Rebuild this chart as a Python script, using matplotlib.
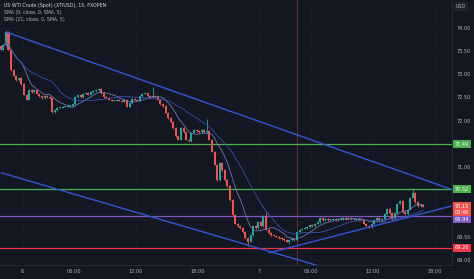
import matplotlib
import matplotlib.pyplot as plt
import numpy as np
import pandas as pd

matplotlib.use("Agg")

# 15 minute closes
closes = [
    73.53, 73.63, 73.91, 73.53, 73.09, 72.97, 72.88, 72.92, 72.79, 72.56,
    72.45, 72.66, 72.62, 72.66, 72.58, 72.53, 72.49, 72.53, 72.51, 72.49,
    72.19, 72.23, 72.28, 72.28, 72.30, 72.30, 72.32, 72.32, 72.36, 72.51,
    72.56, 72.51, 72.58, 72.60, 72.56, 72.62, 72.64, 72.66, 72.69, 72.60,
    72.51, 72.49, 72.45, 72.43, 72.43, 72.45, 72.43, 72.41, 72.45, 72.30,
    72.38, 72.47, 72.45, 72.43, 72.53, 72.58, 72.60, 72.53, 72.51, 72.53,
    72.51, 72.45, 72.36, 72.32, 72.17, 72.06, 71.97, 71.84, 71.67, 71.59,
    71.84, 71.76, 71.59, 71.56, 71.74, 71.80, 71.78, 71.76, 71.80, 71.76,
    71.78, 71.59, 71.33, 71.05, 70.72, 71.09, 70.94, 70.72, 70.59, 70.29,
    69.97, 69.78, 69.73, 69.69, 69.60, 69.47, 69.39, 69.54, 69.73, 69.69,
    69.82, 69.73, 69.95, 69.65, 69.58, 69.54, 69.52, 69.50, 69.47, 69.45,
    69.43, 69.39, 69.43, 69.45, 69.43, 69.60, 69.65, 69.67, 69.69, 69.71,
    69.75, 69.73, 69.78, 69.82, 69.91, 69.86, 69.88, 69.86, 69.86, 69.88,
    69.86, 69.88, 69.88, 69.91, 69.88, 69.91, 69.88, 69.88, 69.86, 69.88,
    69.86, 69.78, 69.73, 69.71, 69.78, 69.86, 69.91, 69.86, 69.88, 69.99,
    70.10, 70.01, 69.88, 70.01, 70.21, 70.27, 70.03, 69.99, 70.08, 70.34,
    70.44, 70.25, 70.16, 70.19, 70.15,
]
first_open = 73.60
# the few wicks that stick out clearly
wick_highs = {2: 73.96, 59: 72.73, 80: 72.04, 103: 70.03, 160: 70.55}
wick_lows = {96: 69.30, 112: 69.34}

time_pos = [8.5, 28.5, 52.5, 76.5, 100.5, 120.5, 144.5, 168.5]
time_labels = ["6", "06:00", "12:00", "18:00", "7", "06:00", "12:00", "18:00"]
price_ticks = [69.0, 69.5, 71.0, 72.0, 72.5, 73.0, 73.5, 74.0]

upper_line = ([2, 175], [73.91, 70.52])
lower_line = ([0, 126], [70.88, 68.83])
rise_line = ([104, 175], [69.15, 70.16])
session_bar = 115

levels = [71.49, 70.52, 69.94, 69.26]
level_colors = ["#4caf50", "#4caf50", "#7e57c2", "#f23645"]
last_price = 70.15
countdown = "03:46"

BG = "#131722"
GRID = "#1a1e29"
TXT = "#b2b5be"
UP = "#26a69a"
DOWN = "#ef5350"

c = np.array(closes)
o = np.concatenate([[first_open], c[:-1]])
x = np.arange(len(c))

fig = plt.figure(figsize=(4.74, 2.79), dpi=100, facecolor=BG)
ax = fig.add_axes([0, 14 / 279, 452 / 474, 1 - 14 / 279])
ax.set_facecolor(BG)

for t in time_pos:
    ax.axvline(t, color=GRID, lw=0.6, zorder=0)
for p in np.arange(69.0, 74.51, 0.5):
    ax.axhline(p, color=GRID, lw=0.6, zorder=0)
ax.axvline(session_bar, color="#5a2e33", lw=0.8, zorder=1)

for lv, col in zip(levels, level_colors):
    ax.axhline(lv, color=col, lw=0.9, zorder=2)

# candles
for i in x:
    col = UP if c[i] >= o[i] else DOWN
    top = max(o[i], c[i])
    bot = min(o[i], c[i])
    hi = max(top + 0.015, wick_highs.get(i, 0))
    lo = min(bot - 0.015, wick_lows.get(i, 99))
    ax.vlines(i, lo, hi, color=col, lw=0.6, zorder=3)
    h = max(top - bot, 0.015)
    ax.bar(i, h, bottom=bot, width=0.78, color=col, lw=0, zorder=4)

s = pd.Series(c)
sma9 = s.rolling(9, min_periods=1).mean()
sma21 = s.rolling(21, min_periods=1).mean()
ax.plot(x, sma9, color="#6c82c4", lw=0.55, zorder=5)
ax.plot(x, sma21, color="#3a55b8", lw=0.55, zorder=5)

for xs, ys in (upper_line, lower_line, rise_line):
    ax.plot(xs, ys, color="#3355d6", lw=1.0, zorder=6, solid_capstyle="butt")

ax.set_xlim(-0.3, 175.2)
ax.set_ylim(68.89, 74.60)

ax.set_xticks(time_pos, time_labels)
ax.yaxis.tick_right()
ax.set_yticks(price_ticks, [f"{p:.2f}" for p in price_ticks])
ax.tick_params(axis="both", length=0, labelsize=3.6, labelcolor=TXT)
ax.tick_params(axis="x", pad=3)
ax.tick_params(axis="y", pad=3)
for side in ("top", "left"):
    ax.spines[side].set_visible(False)
for side in ("right", "bottom"):
    ax.spines[side].set_color("#2a2e39")
    ax.spines[side].set_linewidth(0.6)

tr = ax.get_yaxis_transform()


def price_box(text, y, color):
    ax.annotate(text, xy=(1, y), xycoords=tr, xytext=(2, 0),
                textcoords="offset points", ha="left", va="center",
                fontsize=3.6, color="white", annotation_clip=False,
                bbox=dict(boxstyle="square,pad=0.32", fc=color, ec="none"))


for lv, col in zip(levels, level_colors):
    if lv == 69.94:
        price_box(f"{lv:.2f}", 69.88, col)
    else:
        price_box(f"{lv:.2f}", lv, col)
price_box(f"{last_price:.2f}", last_price, DOWN)
price_box(countdown, 70.03, DOWN)

ax.annotate("USD", xy=(1, 74.47), xycoords=tr, xytext=(2.5, 0),
            textcoords="offset points", ha="left", va="center",
            fontsize=3.4, color=TXT, annotation_clip=False,
            bbox=dict(boxstyle="square,pad=0.4", fc="#1e222d", ec="#2a2e39",
                      lw=0.4))

fig.text(4 / 474, 1 - 5.5 / 279, "US WTI Crude (Spot) (XTIUSD), 15, FXOPEN",
         fontsize=3.4, color="#d1d4dc", va="center", ha="left")
fig.text(4 / 474, 1 - 12.5 / 279, "SMA (9, close, 0, SMA, 5)",
         fontsize=3.3, color=TXT, va="center", ha="left")
fig.text(4 / 474, 1 - 19.5 / 279, "SMA (21, close, 0, SMA, 5)",
         fontsize=3.3, color=TXT, va="center", ha="left")

fig.savefig("out.png", dpi=100, facecolor=BG)
plt.close(fig)
